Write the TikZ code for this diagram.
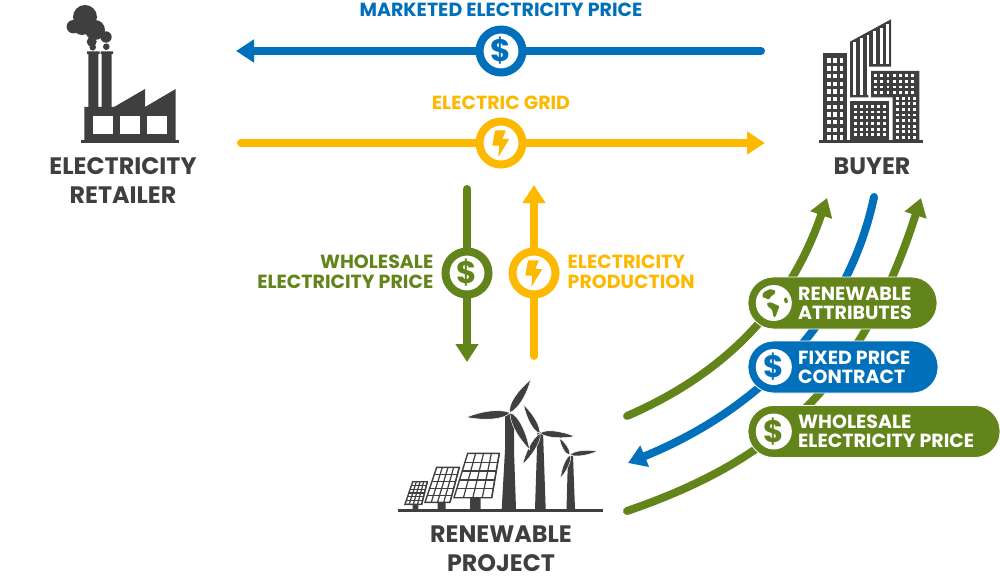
\documentclass[tikz,border=0pt]{standalone}
\usepackage{fontspec}
\setmainfont{Poppins}
\usetikzlibrary{positioning,arrows.meta,calc}
\definecolor{gridyellow}{HTML}{FDB900}
\definecolor{priceblue}{HTML}{0070BB}
\definecolor{leafgreen}{HTML}{62841A}
\definecolor{icondark}{HTML}{3F3F3F}
\tikzset{
	headtext/.style={font=\fontsize{23.8}{29}\selectfont\bfseries, text=icondark, align=center, inner sep=0pt},
	flowtext/.style={font=\fontsize{19}{20}\selectfont\bfseries, inner sep=0pt},
	pilltext/.style={font=\fontsize{19}{19}\selectfont\bfseries, text=white, align=left, inner sep=0pt},
	flowline/.style={line width=8pt, line cap=round, -{Triangle[width=22pt,length=18pt]}},
	badge/.style={circle, draw=#1, text=#1, fill=white, line width=8pt, minimum size=43pt, inner sep=0pt,
		font=\fontsize{31}{31}\selectfont\bfseries},
	pill/.style={rectangle, rounded corners=25.5pt, fill=#1, draw=white, line width=0.8pt, minimum height=52pt, inner sep=0pt},
	pillicon/.style={circle, fill=white, text=#1, minimum size=36pt, inner sep=0pt,
		font=\fontsize{31}{31}\selectfont\bfseries},
	pics/bolt/.style={code={
		\fill[gridyellow, rounded corners=0.5pt] (-6,-12.7) -- (5,-12.7) -- (1.3,-4) -- (8.3,-4) -- (-2.7,14)
			-- (-1.7,2.7) -- (-8.7,2.7) -- cycle;
	}},
	pics/blade/.style args={#1/#2}{code={
		\fill[icondark, draw=white, line width=0.5pt] (0,0) .. controls (0.15*#1,-#2) and (0.6*#1,-0.8*#2) .. (#1,0)
			.. controls (0.7*#1,0.6*#2) and (0.25*#1,0.9*#2) .. (0,0) -- cycle;
	}},
}
% grid of a solar panel from its four corners
\newcommand{\panelgrid}[6]{
	\fill[white, draw=icondark, line width=1.4pt] (#1) -- (#2) -- (#3) -- (#4) -- cycle;
	\foreach \t in {1,...,#5} {
		\pgfmathsetmacro{\f}{\t/#5}
		\draw[icondark, line width=1.2pt] ($(#1)!\f!(#2)$) -- ($(#4)!\f!(#3)$);
	}
	\foreach \t in {1,...,#6} {
		\pgfmathsetmacro{\f}{\t/#6}
		\draw[icondark, line width=1.2pt] ($(#1)!\f!(#4)$) -- ($(#2)!\f!(#3)$);
	}
}
\begin{document}
\begin{tikzpicture}[x=1pt,y=-1pt]
	\useasboundingbox (0,0) rectangle (1000,580);

	% flows along the top
	\coordinate (pricestart) at (761,51);
	\coordinate (priceend) at (236,51);
	\coordinate (gridstart) at (241,143);
	\coordinate (gridend) at (765,143);
	\draw[flowline, priceblue] (pricestart) -- (priceend);
	\draw[flowline, gridyellow] (gridstart) -- (gridend);
	\node[badge=priceblue] (pricebadge) at (501,51) {\$};
	\node[badge=gridyellow] (gridbadge) at (501,143) {};
	\pic at (gridbadge) {bolt};
	\node[flowtext, text=priceblue] (pricetext) at (501,10) {MARKETED ELECTRICITY PRICE};
	\node[flowtext, text=gridyellow] (gridtext) at (501,103) {ELECTRIC GRID};

	% flows to and from the project
	\coordinate (salestart) at (467,189);
	\coordinate (saleend) at (467,362);
	\coordinate (prodstart) at (534,356);
	\coordinate (prodend) at (534,185);
	\draw[flowline, leafgreen] (salestart) -- (saleend);
	\draw[flowline, gridyellow] (prodstart) -- (prodend);
	\node[badge=leafgreen] (salebadge) at (467,273) {\$};
	\node[badge=gridyellow] (prodbadge) at (534,273) {};
	\pic at (prodbadge) {bolt};
	\node[flowtext, text=leafgreen, align=right, left=8pt of salebadge, yshift=1pt] (saletext) {WHOLESALE\\ELECTRICITY PRICE};
	\node[flowtext, text=gridyellow, align=left, right=8pt of prodbadge, yshift=1pt] (prodtext) {ELECTRICITY\\PRODUCTION};

	% curved contract flows
	\coordinate (attrstart) at (627,416);
	\coordinate (attrend) at (827,198);
	\coordinate (fixedstart) at (874,197);
	\coordinate (fixedend) at (628,463);
	\coordinate (wholestart) at (627,511);
	\coordinate (wholeend) at (921,198);
	\draw[flowline, leafgreen] (attrstart) .. controls (710,380) and (785,320) .. (attrend);
	\draw[flowline, priceblue] (fixedstart) .. controls (850,310) and (770,405) .. (fixedend);
	\draw[flowline, leafgreen] (wholestart) .. controls (770,462) and (860,388) .. (wholeend);

	\node[pill=leafgreen, minimum width=189pt] (attrpill) at (842.5,303) {};
	\node[pill=priceblue, minimum width=190pt] (fixedpill) at (843,367) {};
	\node[pill=leafgreen, minimum width=252pt] (wholepill) at (874,431.5) {};
	\node[pillicon=leafgreen, right=8pt of attrpill.west] (attricon) {};
	\node[pillicon=priceblue, right=8pt of fixedpill.west] (fixedicon) {\$};
	\node[pillicon=leafgreen, right=8pt of wholepill.west] (wholeicon) {\$};
	\node[pilltext, right=6pt of attricon] (attrtext) {RENEWABLE\\ATTRIBUTES};
	\node[pilltext, right=6pt of fixedicon] (fixedtext) {FIXED PRICE\\CONTRACT};
	\node[pilltext, right=6pt of wholeicon] (wholetext) {WHOLESALE\\ELECTRICITY PRICE};

	% globe in the first pill
	\begin{scope}[shift={(attricon.center)}, rounded corners=1pt]
		\fill[leafgreen] (-10.3,-10.7) -- (-3.7,-14) -- (1.7,-12.3) -- (1,-9.3) -- (-2.7,-6.7) -- (-5,-3.3)
			-- (-8.3,-5) -- (-11.7,-6) -- cycle;
		\fill[leafgreen] (-7,0) -- (-2.7,-0.7) -- (5.7,3.3) -- (4,7.3) -- (1.7,14) -- (-0.3,14) -- (-1.7,6.7)
			-- (-6,3.3) -- cycle;
		\fill[leafgreen] (9.7,-4) -- (13,-6) -- (14.3,-0.7) -- (11.7,0.7) -- cycle;
	\end{scope}

	% retailer
	\fill[icondark] (81,140) rectangle (179,143);
	\fill[icondark] (84.3,140) -- (84.3,107) -- (114,107) -- (145,89) -- (145,107) -- (175.7,89) -- (175.7,140) -- cycle;
	\fill[icondark] (88.3,52) rectangle (98.3,107) (101.7,52) rectangle (111.7,107);
	\fill[icondark] (87,51.5) rectangle (99.5,54) (100.5,51.5) rectangle (113,54);
	\foreach \wx in {93.3,120,147.3}
		\fill[white] (\wx,116) rectangle ++(20,18.3);
	\foreach \sx/\sy/\sr in {85/17/12, 73.3/26.7/6.7, 95/30/10, 106/37/5.7, 91.7/41.7/5, 92.7/47.3/3.3, 106.3/46.7/3.3, 82/26/9}
		\fill[icondark] (\sx,\sy) circle (\sr);
	\node[headtext] (retailertext) at (123,180.5) {ELECTRICITY\\RETAILER};

	% buyer
	\fill[icondark] (819.3,140) rectangle (922.7,143.3);
	\fill[icondark] (822.7,53.3) rectangle (846.7,140);
	\foreach \wy in {0,...,10}
		\foreach \wx in {0,1,2}
			\fill[white] (827.2+6.2*\wx,58.5+7.7*\wy) rectangle ++(3.6,4.4);
	\fill[icondark] (850,41.7) -- (891,19.3) -- (891,66.7) -- (868.3,66.7) -- (868.3,97.3) -- (850,97.3) -- cycle;
	\foreach \sx/\st/\sb in {853.4/42/95, 860/38.5/95, 866.6/35/64, 873.2/31.5/64, 879.8/28/64, 886.4/24.5/64}
		\fill[white] (\sx,\st) rectangle (\sx+2.8,\sb);
	\fill[white] (866.6,64) rectangle (869.4,95);
	\fill[icondark] (871,71) -- (919.3,71) -- (919.3,140) -- (892.7,140) -- (892.7,97.3) -- (871,97.3) -- cycle;
	\foreach \wy in {0,...,3}
		\foreach \wx in {0,...,6}
			\fill[white] (874.2+6.2*\wx,74.5+5.6*\wy) rectangle ++(2.8,2.8);
	\foreach \wy in {4,...,11}
		\foreach \wx in {0,...,3}
			\fill[white] (896+5.8*\wx,74.5+5.6*\wy) rectangle ++(2.8,2.8);
	\fill[icondark] (850,100.7) rectangle (889.3,140);
	\foreach \wy in {0,...,5}
		\foreach \wx in {0,...,5}
			\fill[white] (854+5.8*\wx,105+5.7*\wy) rectangle ++(2.8,2.8);
	\node[headtext] (buyertext) at (872,166) {BUYER};

	% project: panels
	\fill[icondark] (398,508.5) rectangle (603,511.7);
	\fill[icondark] (412.7,504) rectangle (418.3,509) (437.7,502) rectangle (445.7,509) (470,497) rectangle (480.7,509);
	\coordinate (pa) at (412.7,481.7); \coordinate (pb) at (427.3,481.7);
	\coordinate (pc) at (421.7,504.3); \coordinate (pd) at (405,504.3);
	\panelgrid{pa}{pb}{pc}{pd}{4}{6}
	\coordinate (qa) at (436.7,467.3); \coordinate (qb) at (459.3,467.3);
	\coordinate (qc) at (450,502.3); \coordinate (qd) at (425,502.3);
	\panelgrid{qa}{qb}{qc}{qd}{4}{5}
	\coordinate (ra) at (467.7,453.3); \coordinate (rb) at (499.3,453.3);
	\coordinate (rc) at (491.7,497.7); \coordinate (rd) at (454,497.7);
	\panelgrid{ra}{rb}{rc}{rd}{4}{5}

	% project: turbines, smallest first
	\fill[icondark] (566.5,509) -- (568,456) -- (573,456) -- (575,509) -- cycle;
	\pic at (570,455) [rotate=122] {blade=20/4};
	\pic at (570,455) [rotate=8] {blade=28/4};
	\pic at (570,455) [rotate=248] {blade=25/4};
	\fill[icondark] (535,509) -- (537.5,432) -- (543,432) -- (545.7,509) -- cycle;
	\pic at (540,433.3) [rotate=120] {blade=33/5.2};
	\pic at (540,433.3) [rotate=-5] {blade=35/5.2};
	\pic at (540,433.3) [rotate=241] {blade=36/5.2};
	\fill[icondark] (501.7,509) -- (505,450) -- (505,414) -- (514,414) -- (514,450) -- (516,509) -- cycle;
	\pic at (510,412.7) [rotate=58] {blade=39/6.5};
	\pic at (510,412.7) [rotate=186] {blade=44/6.5};
	\pic at (510,412.7) [rotate=-62] {blade=42/6.5};
	\node[headtext] (projecttext) at (501,548.5) {RENEWABLE\\PROJECT};
\end{tikzpicture}
\end{document}
